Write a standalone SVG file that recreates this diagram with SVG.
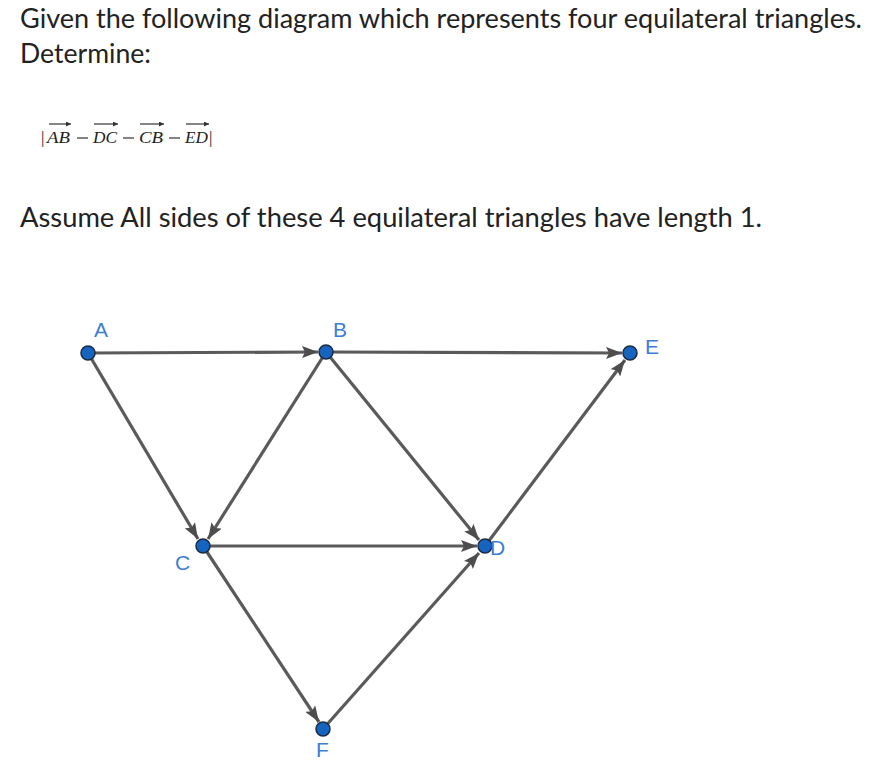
<svg xmlns="http://www.w3.org/2000/svg" width="895" height="760" viewBox="0 0 895 760">
<defs>
<marker id="ah" viewBox="0 0 16 12" refX="16" refY="6" markerWidth="16" markerHeight="12" markerUnits="userSpaceOnUse" orient="auto">
<path d="M0,0 L16,6 L0,12 L3,6 Z" fill="#4d4d4d"/>
</marker>
<marker id="va" viewBox="0 0 6 6" refX="6" refY="3" markerWidth="5" markerHeight="5" markerUnits="userSpaceOnUse" orient="auto">
<path d="M0,0 L6,3 L0,6 Z" fill="#333"/>
</marker>
</defs>
<style>
.q{font-family:Lato,"Open Sans",sans-serif;font-size:26px;fill:#222}
.m{font-family:"Liberation Serif",serif;font-style:italic;font-size:17px;fill:#222}
.mo{font-family:"Liberation Serif",serif;font-size:17px;fill:#222}
.e{stroke:#5a5a5a;stroke-width:3.2;fill:none}
.ov{stroke:#333;stroke-width:1.2;fill:none}
.pt{fill:#1565c0;stroke:#1b2a40;stroke-width:1.5}
.lb{font-family:"Liberation Sans",Arial,sans-serif;font-size:21px;fill:#3d7dd8}
</style>
<rect width="895" height="760" fill="#fff"/>
<text class="q" x="20" y="28" textLength="842" lengthAdjust="spacingAndGlyphs">Given the following diagram which represents four equilateral triangles.</text>
<text class="q" x="20" y="63" textLength="131" lengthAdjust="spacingAndGlyphs">Determine:</text>
<g id="formula">
<text class="mo" x="41" y="143">|</text>
<text class="m" x="47" y="143" textLength="23" lengthAdjust="spacingAndGlyphs">AB</text>
<line x1="77" y1="138" x2="88" y2="138" stroke="#333" stroke-width="1.2"/>
<text class="m" x="93" y="143" textLength="24" lengthAdjust="spacingAndGlyphs">DC</text>
<line x1="123" y1="138" x2="134" y2="138" stroke="#333" stroke-width="1.2"/>
<text class="m" x="139" y="143" textLength="24" lengthAdjust="spacingAndGlyphs">CB</text>
<line x1="169" y1="138" x2="180" y2="138" stroke="#333" stroke-width="1.2"/>
<text class="m" x="185" y="143" textLength="23" lengthAdjust="spacingAndGlyphs">ED</text>
<text class="mo" x="209" y="143">|</text>
<line class="ov" x1="49" y1="124" x2="71" y2="124" marker-end="url(#va)"/>
<line class="ov" x1="94" y1="124" x2="118" y2="124" marker-end="url(#va)"/>
<line class="ov" x1="140" y1="124" x2="164" y2="124" marker-end="url(#va)"/>
<line class="ov" x1="186" y1="124" x2="209" y2="124" marker-end="url(#va)"/>
</g>
<text class="q" x="20" y="227" textLength="742" lengthAdjust="spacingAndGlyphs">Assume All sides of these 4 equilateral triangles have length 1.</text>
<g id="connectors">
<line class="e" x1="88" y1="353" x2="318" y2="352" marker-end="url(#ah)"/>
<line class="e" x1="326" y1="352" x2="622" y2="353" marker-end="url(#ah)"/>
<line class="e" x1="88" y1="353" x2="198" y2="539" marker-end="url(#ah)"/>
<line class="e" x1="326" y1="352" x2="208" y2="539" marker-end="url(#ah)"/>
<line class="e" x1="326" y1="352" x2="479" y2="540" marker-end="url(#ah)"/>
<line class="e" x1="203" y1="546" x2="477" y2="546" marker-end="url(#ah)"/>
<line class="e" x1="485" y1="546" x2="625" y2="360" marker-end="url(#ah)"/>
<line class="e" x1="203" y1="546" x2="319" y2="722" marker-end="url(#ah)"/>
<line class="e" x1="323" y1="729" x2="479" y2="553" marker-end="url(#ah)"/>
</g>
<g id="A"><circle class="pt" cx="88" cy="353" r="7"/><text class="lb" x="94" y="337">A</text></g>
<g id="B"><circle class="pt" cx="326" cy="352" r="7"/><text class="lb" x="333" y="337">B</text></g>
<g id="E"><circle class="pt" cx="630" cy="353" r="7"/><text class="lb" x="645" y="354">E</text></g>
<g id="C"><circle class="pt" cx="203" cy="546" r="7"/><text class="lb" x="175" y="570">C</text></g>
<g id="D"><circle class="pt" cx="485" cy="546" r="7"/><text class="lb" x="490" y="555">D</text></g>
<g id="F"><circle class="pt" cx="323" cy="729" r="7"/><text class="lb" x="316" y="757">F</text></g>
</svg>
